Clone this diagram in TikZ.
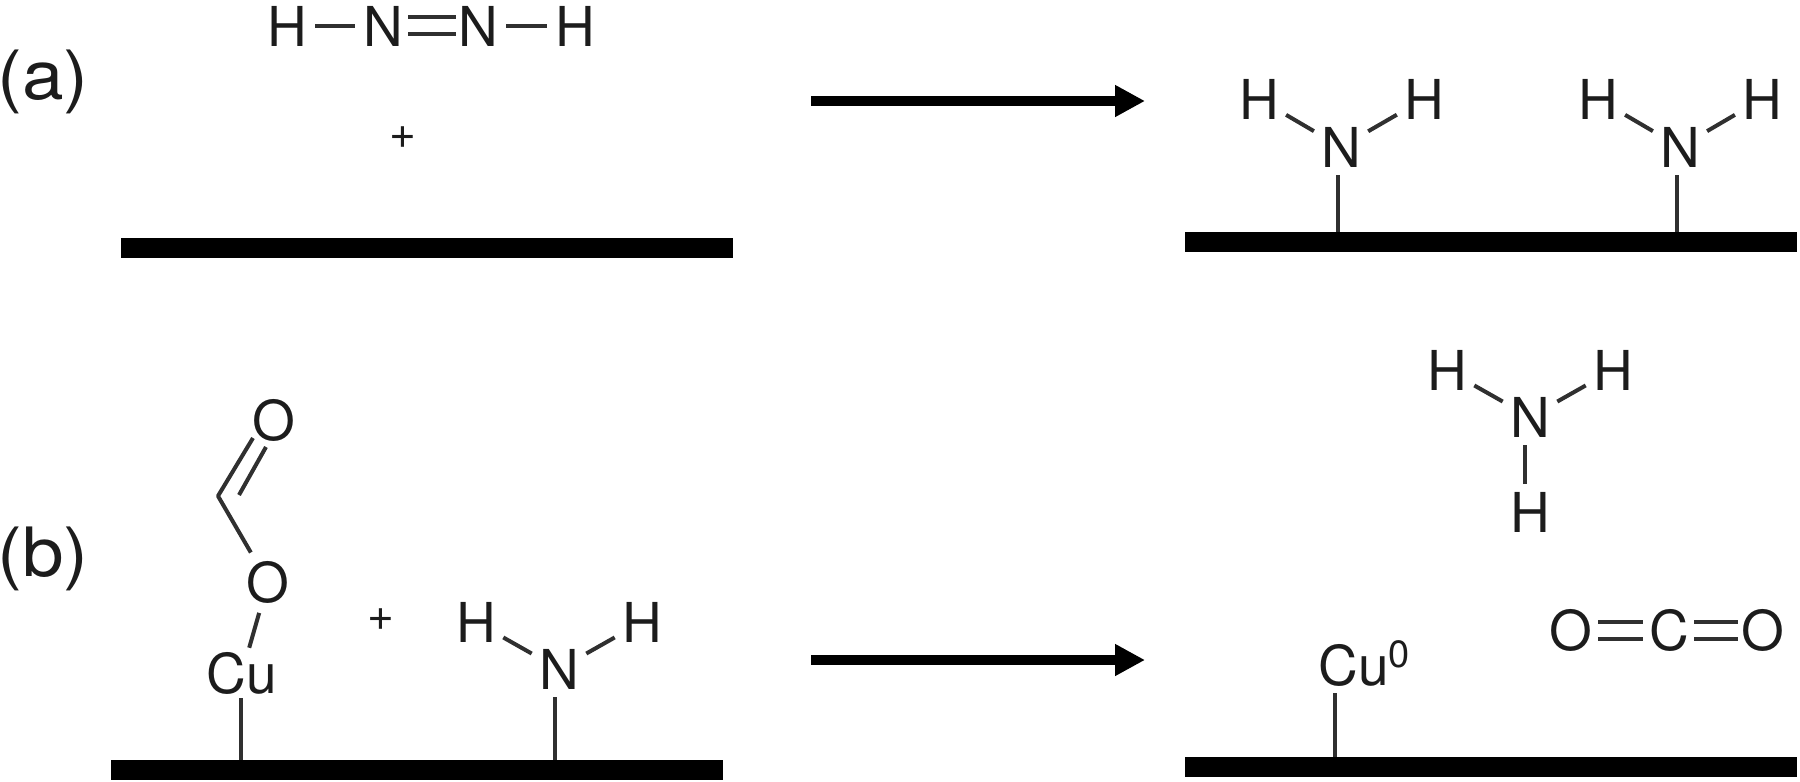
\documentclass[tikz,border=0pt]{standalone}
\usepackage{fontspec}
\setmainfont{TeX Gyre Heros}
\usetikzlibrary{arrows.meta}
\definecolor{ink}{HTML}{1C1C1C}
\definecolor{bondc}{HTML}{303030}
\tikzset{
  atom/.style={shape=circle,inner sep=0pt,minimum size=48pt,text=ink,font=\fontsize{55}{55}\selectfont},
  metal/.style={atom,shape=rectangle,minimum size=0pt,inner sep=4pt},
  tag/.style={inner sep=0pt,text=ink,xscale=1.1,font=\fontsize{68}{68}\selectfont},
  plus/.style={inner sep=0pt,text=ink,font=\fontsize{46}{46}\selectfont},
  bond/.style={line width=4pt,draw=bondc},
  diag/.style={bond,shorten <=3pt,shorten >=3pt},
  bar/.style={shape=rectangle,fill=black,inner sep=0pt,minimum height=20pt},
  rxn/.style={line width=9.5pt,draw=black,-{Triangle[length=30pt,width=30pt]}},
}
\begin{document}
\begin{tikzpicture}[x=1pt,y=-1pt]
\useasboundingbox (0,0) rectangle (1800,782);
% labels
\node[tag] (la) at (43,82) {(a)};
\node[tag] (lb) at (43,559) {(b)};
% panel a, left
\node[atom] (a1) at (287,26) {H};
\node[atom] (a2) at (383,26) {N};
\node[atom] (a3) at (478,26) {N};
\node[atom] (a4) at (575,26) {H};
\draw[bond] (a1) -- (a2);
\draw[bond] (a3) -- (a4);
\draw[bond] ([yshift=9pt]a2.center -| 408,0) -- ([yshift=9pt]a3.center -| 456,0);
\draw[bond] ([yshift=-8pt]a2.center -| 408,0) -- ([yshift=-8pt]a3.center -| 456,0);
\node[plus] (pa) at (403,138) {+};
\node[bar,minimum width=612pt] (ba) at (427,248) {};
% arrows
\coordinate (r1s) at (811,101);
\coordinate (r1e) at (1145,101);
\draw[rxn] (r1s) -- (r1e);
\coordinate (r2s) at (811,660);
\coordinate (r2e) at (1145,660);
\draw[rxn] (r2s) -- (r2e);
% panel a, right
\node[bar,minimum width=612pt] (bc) at (1491,241.5) {};
\node[atom] (c1) at (1259,99) {H};
\node[atom] (c2) at (1424,99) {H};
\node[atom] (c3) at (1341,147) {N};
\draw[diag] (c1) -- (c3);
\draw[diag] (c2) -- (c3);
\coordinate (s1) at (1338,232);
\draw[bond] (s1) -- (s1 |- c3.south);
\node[atom] (c4) at (1598,99) {H};
\node[atom] (c5) at (1762,99) {H};
\node[atom] (c6) at (1680,147) {N};
\draw[diag] (c4) -- (c6);
\draw[diag] (c5) -- (c6);
\coordinate (s2) at (1677,232);
\draw[bond] (s2) -- (s2 |- c6.south);
% panel b, left
\node[bar,minimum width=612pt] (bb) at (416.5,770) {};
\node[metal] (d1) at (242,673) {Cu};
\node[atom] (d2) at (268,582) {O};
\node[atom] (d3) at (274,420) {O};
\coordinate (dc) at (218,496);
\coordinate (de) at (253,438);
\coordinate (di1) at (239,495);
\coordinate (di2) at (266,447);
\draw[bond,shorten <=2pt] (d2) -- (d1);
\draw[bond,line join=round,shorten <=4pt] (d2) -- (dc) -- (de);
\draw[bond] (di1) -- (di2);
\coordinate (s3) at (241,760);
\draw[bond] (s3) -- (s3 |- d1.south);
\node[plus] (pb) at (381,620) {+};
\node[atom] (e1) at (476,622) {H};
\node[atom] (e2) at (642,622) {H};
\node[atom] (e3) at (559,669) {N};
\draw[diag] (e1) -- (e3);
\draw[diag] (e2) -- (e3);
\coordinate (s4) at (555,760);
\draw[bond] (s4) -- (s4 |- e3.south);
% panel b, right
\node[atom] (f1) at (1447,370) {H};
\node[atom] (f2) at (1613,370) {H};
\node[atom] (f3) at (1530,417) {N};
\node[atom] (f4) at (1530,512) {H};
\draw[diag] (f1) -- (f3);
\draw[diag] (f2) -- (f3);
\coordinate (f5) at (1525,484);
\draw[bond] (f5) -- (f5 |- f3.south);
\node[atom] (g1) at (1571,630) {O};
\node[atom] (g2) at (1669,630) {C};
\node[atom] (g3) at (1763,630) {O};
\draw[bond] ([yshift=-9pt]g1.center -| 1598,0) -- ([yshift=-9pt]g2.center -| 1643,0);
\draw[bond] ([yshift=8pt]g1.center -| 1598,0) -- ([yshift=8pt]g2.center -| 1643,0);
\draw[bond] ([yshift=-9pt]g2.center -| 1694,0) -- ([yshift=-9pt]g3.center -| 1738,0);
\draw[bond] ([yshift=8pt]g2.center -| 1694,0) -- ([yshift=8pt]g3.center -| 1738,0);
\node[bar,minimum width=612pt] (bd) at (1491,767) {};
\node[metal,anchor=base,inner sep=0pt] (h1) at (1364,685) {Cu\raisebox{18pt}{\fontsize{38}{38}\selectfont 0}};
\coordinate (s5) at (1335,757);
\draw[bond] (s5) -- (s5 |- 0,693);
\end{tikzpicture}
\end{document}
